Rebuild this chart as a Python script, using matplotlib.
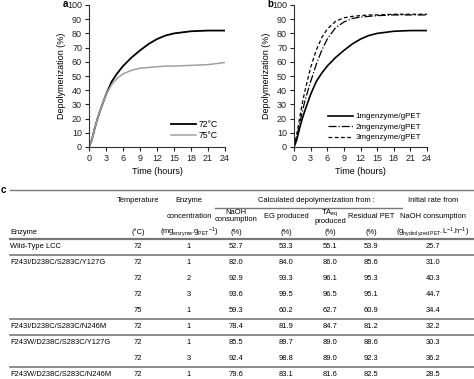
import matplotlib.pyplot as plt

plt.rcParams['font.family'] = ['Liberation Sans', 'DejaVu Sans']
plt.rcParams['mathtext.fontset'] = 'custom'
plt.rcParams['mathtext.rm'] = 'Liberation Sans'
plt.rcParams['mathtext.it'] = 'Liberation Sans'
plt.rcParams['mathtext.default'] = 'regular'

# curves
t = [0, 0.5, 1, 1.5, 2, 3, 4, 5, 6, 7.5, 9, 10.5, 12, 13.5, 15, 18, 21, 24]
dep_72 = [0, 5, 13, 20, 26, 37, 46, 52, 57, 63, 68, 72.5, 76, 78.5, 80, 81.5, 82, 82]
dep_75 = [0, 5, 13, 20, 26, 37, 44, 48.5, 51.5, 54, 55.5, 56, 56.5, 57, 57, 57.5, 58, 59.5]
dep_2mg = [0, 7, 16, 25, 33, 46, 58, 68, 76, 84, 88, 90.5, 91.5, 92, 92.5, 93, 93, 93]
dep_3mg = [0, 9, 20, 31, 40, 56, 68, 77, 83, 88.5, 91, 92, 92.5, 93, 93, 93.5, 93.5, 93.5]

# table c
enzymes = ['Wild-Type LCC', 'F243I/D238C/S283C/Y127G', '', '', '',
           'F243I/D238C/S283C/N246M', 'F243W/D238C/S283C/Y127G', '',
           'F243W/D238C/S283C/N246M']
temps = ['72', '72', '72', '72', '75', '72', '72', '72', '72']
concs = ['1', '1', '2', '3', '1', '1', '1', '3', '1']
naoh = ['52.7', '82.0', '92.9', '93.6', '59.3', '78.4', '85.5', '92.4', '79.6']
eg = ['53.3', '84.0', '93.3', '99.5', '60.2', '81.9', '89.7', '98.8', '83.1']
ta = ['55.1', '86.0', '96.1', '96.5', '62.7', '84.7', '89.0', '89.0', '81.6']
residual = ['53.9', '85.6', '95.3', '95.1', '60.9', '81.2', '88.6', '92.3', '82.5']
rate = ['25.7', '31.0', '40.3', '44.7', '34.4', '32.2', '30.3', '36.2', '28.5']
group_ends = [0, 4, 5, 7]

W, H = 474, 379
fig = plt.figure(figsize=(W / 100, H / 100), dpi=100)

# pixel-coordinate overlay for the table and panel letters
ov = fig.add_axes([0, 0, 1, 1])
ov.set_xlim(0, W)
ov.set_ylim(H, 0)
ov.axis('off')


def setup(ax):
    ax.set_xlim(0, 24)
    ax.set_ylim(0, 100)
    ax.set_xticks(range(0, 25, 3))
    ax.set_yticks(range(0, 101, 10))
    for s in ['top', 'right']:
        ax.spines[s].set_visible(False)
    for s in ['left', 'bottom']:
        ax.spines[s].set_linewidth(0.8)
        ax.spines[s].set_color('#333333')
    ax.tick_params(labelsize=6.5, length=3, width=0.8, colors='#222222', pad=2)
    ax.set_xlabel('Time (hours)', fontsize=6.5, labelpad=3)
    ax.set_ylabel('Depolymerization (%)', fontsize=6.5, labelpad=1)


axa = fig.add_axes([89 / W, 1 - 147 / H, 136 / W, 142 / H])
axa.plot(t, dep_72, color='black', lw=1.3, label='72°C')
axa.plot(t, dep_75, color='#a0a0a0', lw=1.1, label='75°C')
setup(axa)
axa.legend(loc='lower right', fontsize=6.2, frameon=False, handlelength=3.0,
           handletextpad=0.3, labelspacing=0.3, borderaxespad=0.4)

axb = fig.add_axes([294 / W, 1 - 147 / H, 133 / W, 142 / H])
axb.plot(t, dep_72, color='black', lw=1.2, label='1mgenzyme/gPET')
axb.plot(t, dep_2mg, color='black', lw=0.9, ls='-.', label='2mgenzyme/gPET')
axb.plot(t, dep_3mg, color='black', lw=0.9, ls=(0, (3, 2)), label='3mgenzyme/gPET')
setup(axb)
axb.legend(loc='lower right', fontsize=5.8, frameon=False, handlelength=3.2,
           handletextpad=0.3, labelspacing=0.35, borderaxespad=0.3)

ov.text(65, 4, 'a', fontsize=7, fontweight='bold', va='center', ha='center')
ov.text(270, 4, 'b', fontsize=7, fontweight='bold', va='center', ha='center')
ov.text(3, 190, 'c', fontsize=7, fontweight='bold', va='center', ha='center')

fs = 5.4
gray = '#777777'
xs = [138, 189, 236, 286, 330, 371, 433]

ov.plot([10, W], [190, 190], color=gray, lw=1.0)
ov.plot([215, 402], [208, 208], color=gray, lw=1.0)
ov.plot([10, W], [239, 239], color=gray, lw=1.6)

ov.text(xs[0], 201, 'Temperature', fontsize=fs, ha='center', va='center')
ov.text(xs[1], 201, 'Enzyme', fontsize=fs, ha='center', va='center')
ov.text(316, 201, 'Calculated depolymerization from :', fontsize=fs, ha='center', va='center')
ov.text(xs[6], 201, 'Initial rate from', fontsize=fs, ha='center', va='center')

ov.text(xs[1], 217, 'concentration', fontsize=fs, ha='center', va='center')
ov.text(xs[2], 216, 'NaOH\nconsumption', fontsize=fs, ha='center', va='center', linespacing=1.0)
ov.text(xs[3], 217, 'EG produced', fontsize=fs, ha='center', va='center')
ov.text(xs[4], 216, 'TA$_{eq}$\nproduced', fontsize=fs, ha='center', va='center', linespacing=1.0)
ov.text(xs[5], 217, 'Residual PET', fontsize=fs, ha='center', va='center')
ov.text(xs[6], 217, 'NaOH consumption', fontsize=fs, ha='center', va='center')

ov.text(10, 232, 'Enzyme', fontsize=fs, ha='left', va='center')
ov.text(xs[0], 232, '(°C)', fontsize=fs, ha='center', va='center')
ov.text(xs[1], 232, '(mg$_{enzyme}$.g$_{PET}$$^{-1}$)', fontsize=fs, ha='center', va='center')
for x in xs[2:6]:
    ov.text(x, 232, '(%)', fontsize=fs, ha='center', va='center')
ov.text(xs[6], 232, '(g$_{hydrolyzed\\ PET}$.L$^{-1}$.h$^{-1}$)', fontsize=fs,
        ha='center', va='center')

for i in range(len(enzymes)):
    y = 247 + 16 * i
    ov.text(10, y, enzymes[i], fontsize=fs, ha='left', va='center')
    cols = [temps[i], concs[i], naoh[i], eg[i], ta[i], residual[i], rate[i]]
    for x, v in zip(xs, cols):
        ov.text(x, y, v, fontsize=fs, ha='center', va='center')
    if i in group_ends:
        ov.plot([10, W], [y + 8, y + 8], color=gray, lw=1.2)

fig.savefig('out.png', dpi=100)
